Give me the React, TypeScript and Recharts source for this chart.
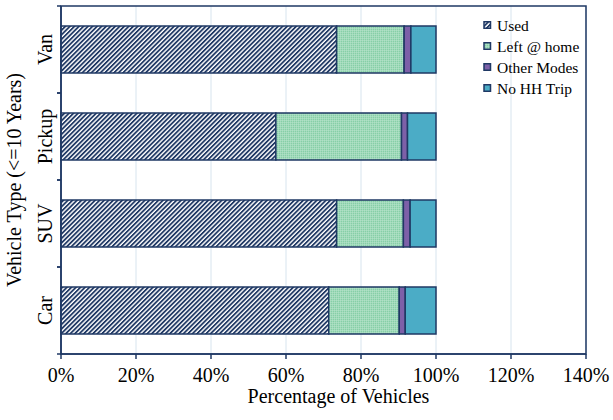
import { Bar, BarChart, CartesianGrid, ReferenceArea, XAxis, YAxis } from "recharts";

const categories = ["Van", "Pickup", "SUV", "Car"];
const used = [73.5, 57.3, 73.5, 71.4];
const leftAtHome = [18.0, 33.5, 17.8, 18.8];
const otherModes = [1.8, 1.6, 1.8, 1.6];
const noHHTrip = [6.7, 7.6, 6.9, 8.2];
const xTicks = [0, 20, 40, 60, 80, 100, 120, 140];

const NAVY = "#1f3864";
const FONT = "Liberation Serif";

const series = [
  { key: "used", name: "Used", fill: "url(#hatchUsed)" },
  { key: "left", name: "Left @ home", fill: "url(#gridLeft)" },
  { key: "other", name: "Other Modes", fill: "#7d60a8" },
  { key: "noTrip", name: "No HH Trip", fill: "#4bacc6" },
];

const data = categories.map((name, i) => ({
  name,
  used: used[i],
  left: leftAtHome[i],
  other: otherModes[i],
  noTrip: noHHTrip[i],
}));

function CategoryTick({ x, y, payload }: any) {
  const half = payload?.offset || 0;
  return (
    <g>
      <line x1={x - 4} x2={x} y1={y - half} y2={y - half} stroke={NAVY} strokeWidth={1.5} />
      <line x1={x - 4} x2={x} y1={y + half} y2={y + half} stroke={NAVY} strokeWidth={1.5} />
      <text
        x={x - 16}
        y={y}
        transform={`rotate(-90 ${x - 16} ${y})`}
        textAnchor="middle"
        dominantBaseline="central"
        fontSize={20}
        fontFamily={FONT}
        fill="#000"
      >
        {payload.value}
      </text>
    </g>
  );
}

function YTitle({ viewBox }: any) {
  const cx = viewBox.x + 14;
  const cy = viewBox.y + viewBox.height / 2;
  return (
    <text
      x={cx}
      y={cy}
      transform={`rotate(-90 ${cx} ${cy})`}
      textAnchor="middle"
      dominantBaseline="central"
      fontSize={20}
      fontFamily={FONT}
      fill="#000"
    >
      {"Vehicle Type (<=10 Years)"}
    </text>
  );
}

// legend drawn straight into the svg, top right inside the plot
function LegendBlock() {
  return (
    <g>
      {series.map((s, i) => (
        <g key={s.key} transform={`translate(484, ${25 + i * 21})`}>
          <rect x={0} y={-3.25} width={6.5} height={6.5} fill={s.fill} stroke={NAVY} strokeWidth={1.5} />
          <text x={13} y={0} dominantBaseline="central" fontSize={15.5} fontFamily={FONT} fill="#000">
            {s.name}
          </text>
        </g>
      ))}
    </g>
  );
}

export default function App() {
  return (
    <div style={{ position: "absolute", left: 0, top: 0, background: "#fff" }}>
      <BarChart
        width={613}
        height={420}
        data={data}
        layout="vertical"
        margin={{ top: 6, right: 27, bottom: 0, left: 0 }}
        barCategoryGap="23%"
      >
        <defs>
          <pattern id="hatchUsed" patternUnits="userSpaceOnUse" width={3.2} height={3.2} patternTransform="rotate(45)">
            <rect width={3.2} height={3.2} fill="#fff" />
            <rect width={1.8} height={3.2} fill={NAVY} />
          </pattern>
          <pattern id="gridLeft" patternUnits="userSpaceOnUse" width={2} height={2}>
            <rect width={2} height={2} fill="#86cfa7" />
            <rect width={0.5} height={2} fill="#bde6cf" />
            <rect width={2} height={0.5} fill="#bde6cf" />
          </pattern>
        </defs>
        <CartesianGrid horizontal={false} stroke="#d7e4ee" strokeWidth={1} />
        <XAxis
          type="number"
          domain={[0, 140]}
          ticks={xTicks}
          tickFormatter={(v) => `${v}%`}
          height={66}
          tickSize={5}
          tickMargin={9}
          interval={0}
          axisLine={{ stroke: NAVY, strokeWidth: 1.5 }}
          tickLine={{ stroke: NAVY, strokeWidth: 1.5 }}
          tick={{ fontSize: 20, fontFamily: FONT, fill: "#000" }}
          label={{
            value: "Percentage of Vehicles",
            position: "insideBottom",
            offset: 17,
            dx: 15,
            style: { fontSize: 20, fontFamily: FONT, fill: "#000" },
          }}
        />
        <YAxis
          type="category"
          dataKey="name"
          width={61}
          tickSize={0}
          tickMargin={0}
          tickLine={false}
          axisLine={{ stroke: NAVY, strokeWidth: 1.5 }}
          tick={<CategoryTick />}
          label={<YTitle />}
        />
        {series.map((s) => (
          <Bar
            key={s.key}
            dataKey={s.key}
            name={s.name}
            stackId="a"
            fill={s.fill}
            stroke={NAVY}
            strokeWidth={1.5}
            isAnimationActive={false}
          />
        ))}
        <ReferenceArea x1={0} x2={140} fill="none" fillOpacity={0} stroke={NAVY} strokeWidth={1.5} ifOverflow="visible" />
        <LegendBlock />
      </BarChart>
    </div>
  );
}
